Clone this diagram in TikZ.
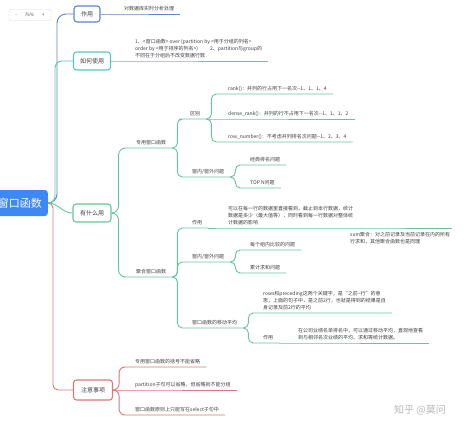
\documentclass[tikz,border=0pt]{standalone}
\usepackage{fontspec}
\setmainfont{Noto Sans CJK SC}
\usepackage{tikz}
\definecolor{RootBlue}{RGB}{62,136,244}
\definecolor{UseBlue}{RGB}{94,132,198}
\definecolor{HowCyan}{RGB}{88,200,190}
\definecolor{WhatGreen}{RGB}{104,198,156}
\definecolor{NoteRed}{RGB}{220,120,120}
\definecolor{TextGray}{RGB}{64,64,64}

\begin{document}
\begin{tikzpicture}[x=1pt, y=-1pt,
    every node/.style={font=\fontsize{5}{7}\selectfont, text=TextGray},
    topic/.style={draw=#1, line width=1.1pt, rounded corners=3pt, fill=white, inner sep=0pt, minimum height=17pt, font=\fontsize{6}{7}\selectfont},
    leaf/.style={anchor=south west, inner xsep=6pt, inner ysep=2.5pt, align=left},
    elbow/.style={to path={-- ++(#1,0) |- (\tikztotarget)}}, elbow/.default=5,
    useline/.style={draw=UseBlue, line width=0.9pt},
    howline/.style={draw=HowCyan, line width=0.9pt},
    whatline/.style={draw=WhatGreen, line width=0.9pt},
    noteline/.style={draw=NoteRed, line width=0.9pt}]
    \fill[white] (0,0) rectangle (474,428);
    \clip (0,0) rectangle (474,428);

    % zoom control and watermark
    \node[draw=black!15, rounded corners=2pt, fill=white, minimum width=42pt, minimum height=11pt, font=\fontsize{4.5}{5}\selectfont, text=black!70] (zoom) at (30,15) {-\hspace{8pt}75\%\hspace{8pt}+};
    \node[font=\fontsize{10}{12}\selectfont, text=black!28] (wm) at (420,410) {知乎 @莫问};

    % root and main topics
    \node[fill=RootBlue, rounded corners=3pt, text=white, font=\fontsize{11}{12}\selectfont, minimum height=26pt, inner xsep=6pt, anchor=east] (root) at (48,203) {窗口函数};
    \node[topic=UseBlue, minimum width=26pt, minimum height=16pt] (zy) at (87,14) {作用};
    \node[topic=HowCyan, minimum width=37pt, minimum height=18pt] (ry) at (92,61) {如何使用};
    \node[topic=WhatGreen, minimum width=38pt, minimum height=18pt] (ys) at (92,213) {有什么用};
    \node[topic=NoteRed, minimum width=39pt, minimum height=20pt] (zs) at (93,390) {注意事项};

    \draw[useline, rounded corners=9pt] (root.east) to[elbow=9] (zy.west);
    \draw[howline, rounded corners=7pt] (root.east) to[elbow=7] (ry.west);
    \draw[whatline] (root.east) to[out=0, in=180] (ys.west);
    \draw[noteline, rounded corners=5pt] (root.east) to[elbow=5] (zs.west);

    % 作用
    \node[leaf, minimum width=58pt] (zyl) at (118,14) {对数据库实时分析处理};
    \draw[useline] (zy.east) -- (zyl.south west) -- (zyl.south east);

    % 如何使用
    \node[leaf] (ryl) at (129,61) {1、<窗口函数> over (partition by <用于分组的列名>\\order by <用于排序的列名>)\hspace{12pt}2、partition与group的\\不同在于分组后不改变数据行数};
    \draw[howline] (ry.east) -- (ryl.south west) -- (ryl.south east);

    % 有什么用: 专用窗口函数
    \node[leaf] (zyhs) at (130,148) {专用窗口函数};
    \node[leaf] (qb) at (184,119) {区别};
    \node[leaf] (rk) at (222,94) {rank()：并列的行占用下一名次-{}-1、1、1、4};
    \node[leaf] (drk) at (222,119) {dense\_rank()：并列的行不占用下一名次-{}-1、1、1、2};
    \node[leaf] (rn) at (222,142) {row\_number()：不考虑并列排名次问题-{}-1、2、3、4};
    \node[leaf] (wt1) at (186,177) {窗内/窗外问题};
    \node[leaf] (jd) at (244,165) {经典排名问题};
    \node[leaf] (topn) at (244,188) {TOP N问题};

    \draw[whatline, rounded corners=7pt] (ys.east) to[elbow=7] (zyhs.south west) -- (zyhs.south east);
    \draw[whatline, rounded corners=5pt] (zyhs.south east) to[elbow=5] (qb.south west) -- (qb.south east);
    \draw[whatline, rounded corners=5pt] (qb.south east) to[elbow=5] (rk.south west) -- (rk.south east);
    \draw[whatline] (qb.south east) -- (drk.south west) -- (drk.south east);
    \draw[whatline, rounded corners=5pt] (qb.south east) to[elbow=5] (rn.south west) -- (rn.south east);
    \draw[whatline, rounded corners=5pt] (zyhs.south east) to[elbow=5] (wt1.south west) -- (wt1.south east);
    \draw[whatline, rounded corners=5pt] (wt1.south east) to[elbow=5] (jd.south west) -- (jd.south east);
    \draw[whatline, rounded corners=5pt] (wt1.south east) to[elbow=5] (topn.south west) -- (topn.south east);

    % 有什么用: 聚合窗口函数
    \node[leaf] (jhhs) at (130,277) {聚合窗口函数};
    \node[leaf] (zy2) at (186,228) {作用};
    \node[leaf] (zy2l) at (222,228) {可以在每一行的数据里直接看到，截止到本行数据，统计\\数据是多少（最大值等），同时看到每一行数据对整体统\\计数据的影响};
    \node[anchor=north west, inner xsep=2pt, inner ysep=2pt, align=left] (sum) at (348,230) {sum聚合：对之前记录及当前记录在内的所有\\行求和，其他聚合函数也是同理};
    \node[leaf] (wt2) at (186,262) {窗内/窗外问题};
    \node[leaf] (mg) at (244,250) {每个组内比较的问题};
    \node[leaf] (lj) at (244,273) {累计求和问题};
    \node[leaf] (ydpj) at (186,328) {窗口函数的移动平均};
    \node[leaf] (rows) at (257,313) {rows和preceding这两个关键字，是“之前\textasciitilde 行”的意\\思，上面的句子中，是之前2行，也就是得到的结果是自\\身记录及前2行的平均};
    \node[leaf] (zy3) at (257,343) {作用};
    \node[leaf] (zy3l) at (292,343) {在公司业绩名单排名中，可以通过移动平均，直观地查看\\到与相邻名次业绩的平均、求和等统计数据。};

    \draw[whatline, rounded corners=7pt] (ys.east) to[elbow=7] (jhhs.south west) -- (jhhs.south east);
    \draw[whatline, rounded corners=5pt] (jhhs.south east) to[elbow=5] (zy2.south west) -- (zy2.south east);
    \draw[whatline] (zy2.south east) -- (zy2l.south west) -- (zy2l.south east) -- (zy2l.south east -| sum.east);
    \draw[whatline, rounded corners=5pt] (jhhs.south east) to[elbow=5] (wt2.south west) -- (wt2.south east);
    \draw[whatline, rounded corners=5pt] (wt2.south east) to[elbow=5] (mg.south west) -- (mg.south east);
    \draw[whatline, rounded corners=5pt] (wt2.south east) to[elbow=5] (lj.south west) -- (lj.south east);
    \draw[whatline, rounded corners=5pt] (jhhs.south east) to[elbow=5] (ydpj.south west) -- (ydpj.south east);
    \draw[whatline, rounded corners=5pt] (ydpj.south east) to[elbow=5] (rows.south west) -- (rows.south east);
    \draw[whatline, rounded corners=5pt] (ydpj.south east) to[elbow=5] (zy3.south west) -- (zy3.south east);
    \draw[whatline] (zy3.south east) -- (zy3l.south west) -- (zy3l.south east);

    % 注意事项
    \node[leaf] (kh) at (129,367) {专用窗口函数的括号不能省略};
    \node[leaf] (pt) at (129,390) {partition子句可以省略，但省略就不能分组};
    \node[leaf] (xz) at (129,415) {窗口函数原则上只能写在select子句中};

    \draw[noteline, rounded corners=6pt] (zs.east) to[elbow=6] (kh.south west) -- (kh.south east);
    \draw[noteline] (zs.east) -- (pt.south west) -- (pt.south east);
    \draw[noteline, rounded corners=6pt] (zs.east) to[elbow=6] (xz.south west) -- (xz.south east);
\end{tikzpicture}
\end{document}
